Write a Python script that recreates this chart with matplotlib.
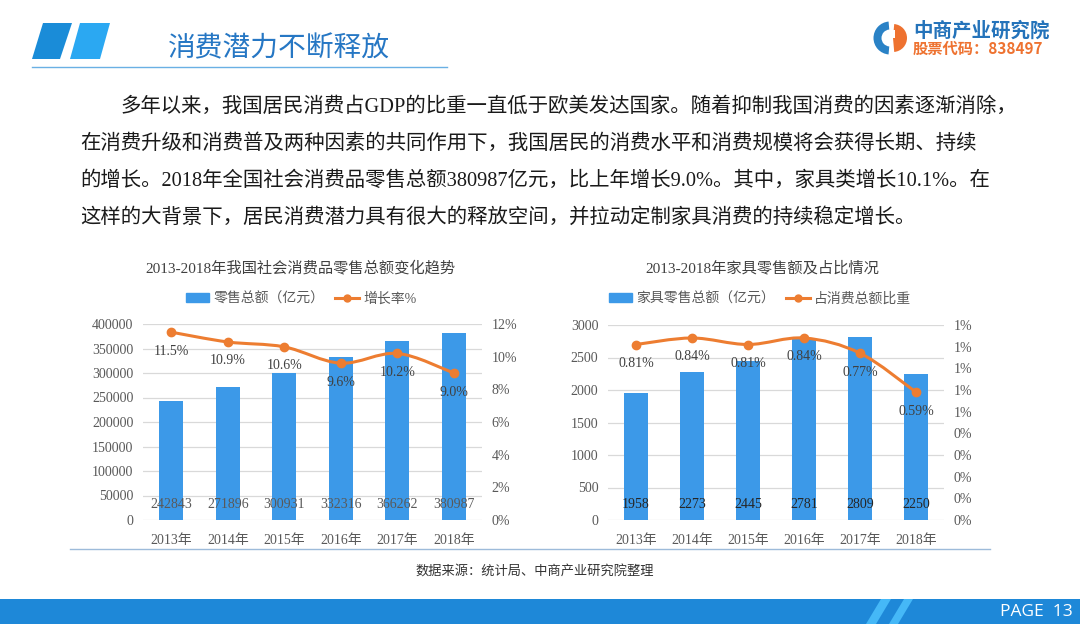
import numpy as np
import matplotlib
matplotlib.use('Agg')
import matplotlib.pyplot as plt
from matplotlib.patches import Polygon, Rectangle, Wedge, Circle, PathPatch, Patch
from matplotlib.lines import Line2D
from matplotlib.path import Path

# ---- data ----
years = ['2013年', '2014年', '2015年', '2016年', '2017年', '2018年']
retail_total = [242843, 271896, 300931, 332316, 366262, 380987]
retail_growth = [11.5, 10.9, 10.6, 9.6, 10.2, 9.0]
furniture_sales = [1958, 2273, 2445, 2781, 2809, 2250]
furniture_share = [0.81, 0.84, 0.81, 0.84, 0.77, 0.59]

retail_ticks = [0, 50000, 100000, 150000, 200000, 250000, 300000, 350000, 400000]
growth_ticks = [0, 2, 4, 6, 8, 10, 12]
furniture_ticks = [0, 500, 1000, 1500, 2000, 2500, 3000]
share_ticks = [0, 0.1, 0.2, 0.3, 0.4, 0.5, 0.6, 0.7, 0.8, 0.9]
share_tick_labels = ['0%', '0%', '0%', '0%', '0%', '1%', '1%', '1%', '1%', '1%']

paragraph = [
    '多年以来，我国居民消费占GDP的比重一直低于欧美发达国家。随着抑制我国消费的因素逐渐消除，',
    '在消费升级和消费普及两种因素的共同作用下，我国居民的消费水平和消费规模将会获得长期、持续',
    '的增长。2018年全国社会消费品零售总额380987亿元，比上年增长9.0%。其中，家具类增长10.1%。在',
    '这样的大背景下，居民消费潜力具有很大的释放空间，并拉动定制家具消费的持续稳定增长。',
]

BAR = '#3C99E8'
LINE = '#ED7D31'
GRID = '#D9D9D9'
TXT = '#595959'
SERIF = ['Liberation Serif', 'Noto Sans CJK SC']
SANS = ['Noto Sans CJK SC', 'DejaVu Sans']

W, H = 1080, 631
fig = plt.figure(figsize=(W / 100, H / 100), dpi=100)
fig.patch.set_facecolor('white')

# page overlay in pixel coordinates
bg = fig.add_axes([0, 0, 1, 1], zorder=-1)
bg.set_xlim(0, W)
bg.set_ylim(H, 0)
bg.axis('off')

# header
bg.add_patch(Polygon([(32, 59), (43, 23), (72, 23), (60, 59)], color='#1A8CD8', lw=0))
bg.add_patch(Polygon([(70, 59), (80, 23), (110, 23), (100, 59)], color='#2BA8F2', lw=0))
bg.text(168, 48, '消费潜力不断释放', fontsize=20, color='#2677C4', va='center', ha='left', family=SANS)
bg.plot([32, 447], [67, 67], color='#6AB0E4', lw=1)

# logo
bg.add_patch(Wedge((890, 38), 16.5, 95, 265, width=8, color='#2A82C6', lw=0))
bg.add_patch(Wedge((893, 38), 14, -85, 85, color='#EE7230', lw=0))
bg.add_patch(Rectangle((892, 30), 3, 8, color='white', lw=0))
bg.text(913, 31, '中商产业研究院', fontsize=14, color='#2473BA', va='center', ha='left',
        family=SANS, fontweight='bold')
bg.text(913, 49, '股票代码：838497', fontsize=11, color='#EE7230', va='center', ha='left',
        family=SANS, fontweight='bold')

# paragraph
para_y = [107, 144, 181, 218]
for i, line in enumerate(paragraph):
    bg.text(120 if i == 0 else 80, para_y[i], line, fontsize=14.7, color='#1A1A1A',
            va='center', ha='left', family=SERIF)

# chart titles
bg.text(300, 268, '2013-2018年我国社会消费品零售总额变化趋势', fontsize=11, color='#404040',
        ha='center', va='center', family=SERIF)
bg.text(762, 268, '2013-2018年家具零售额及占比情况', fontsize=11, color='#404040',
        ha='center', va='center', family=SERIF)

# separator and source
bg.plot([70, 990], [549, 549], color='#9DBBDA', lw=1)
bg.text(535, 572, '数据来源：统计局、中商产业研究院整理', fontsize=9.5, color='#333333',
        ha='center', va='center', family=SANS)

# footer
bg.add_patch(Rectangle((0, 599), W, 25, color='#1E88D8', lw=0))
bg.add_patch(Polygon([(866, 624), (881, 599), (891, 599), (876, 624)], color='#45B8F7', lw=0))
bg.add_patch(Polygon([(889, 624), (904, 599), (913, 599), (898, 624)], color='#45B8F7', lw=0))
bg.text(1000, 612, 'PAGE  13', fontsize=12.5, color='white', ha='left', va='center', family='Open Sans')


def smooth_line(ax, x, y, color):
    x = np.asarray(x, float)
    y = np.asarray(y, float)
    n = len(x)
    verts = [(x[0], y[0])]
    codes = [Path.MOVETO]
    for i in range(n - 1):
        a = i - 1 if i > 0 else i
        b = i + 2 if i + 2 < n else i + 1
        c1 = (x[i] + (x[i + 1] - x[a]) / 6, y[i] + (y[i + 1] - y[a]) / 6)
        c2 = (x[i + 1] - (x[b] - x[i]) / 6, y[i + 1] - (y[b] - y[i]) / 6)
        verts += [c1, c2, (x[i + 1], y[i + 1])]
        codes += [Path.CURVE4] * 3
    ax.add_patch(PathPatch(Path(verts, codes), fill=False, ec=color, lw=2.2, capstyle='round'))
    ax.plot(x, y, 'o', color=color, ms=6, zorder=3)


def make_chart(px, bars, bar_ticks, line, line_ticks, line_labels, line_fmt, legend_labels,
               legend_x, bar_label_color):
    x0, x1, y0, y1 = px
    ax = fig.add_axes([x0 / W, 1 - y1 / H, (x1 - x0) / W, (y1 - y0) / H])
    ax.set_facecolor('none')
    xs = np.arange(len(years))
    ax.bar(xs, bars, width=0.42, color=BAR, zorder=2)
    ax.set_xlim(-0.5, len(years) - 0.5)
    ax.set_ylim(bar_ticks[0], bar_ticks[-1])
    ax.set_yticks(bar_ticks)
    ax.set_xticks(xs)
    ax.set_xticklabels(years)
    ax.grid(axis='y', color=GRID, lw=0.9, zorder=0)
    ax.set_axisbelow(True)
    for s in ax.spines.values():
        s.set_visible(False)
    ax.tick_params(length=0, labelsize=10, labelcolor=TXT)
    ax.tick_params(axis='x', pad=10)
    ax.tick_params(axis='y', pad=7)
    for lab in ax.get_xticklabels() + ax.get_yticklabels():
        lab.set_family(SERIF)
    for xi, v in zip(xs, bars):
        ax.annotate(str(v), (xi, 0), xytext=(0, 15), textcoords='offset pixels',
                    ha='center', va='center', fontsize=10, color=bar_label_color, family=SERIF, zorder=4)

    ax2 = ax.twinx()
    ax2.set_ylim(line_ticks[0], line_ticks[-1])
    ax2.set_yticks(line_ticks)
    ax2.set_yticklabels(line_labels)
    for s in ax2.spines.values():
        s.set_visible(False)
    ax2.tick_params(length=0, labelsize=10, labelcolor=TXT, pad=7)
    for lab in ax2.get_yticklabels():
        lab.set_family(SERIF)
    smooth_line(ax2, xs, line, LINE)
    for xi, v in zip(xs, line):
        ax2.annotate(line_fmt.format(v), (xi, v), xytext=(0, -19), textcoords='offset pixels',
                     ha='center', va='center', fontsize=10, color='#404040', family=SERIF)

    handles = [Patch(color=BAR), Line2D([], [], color=LINE, lw=2.2, marker='o', ms=5)]
    leg = ax.legend(handles, legend_labels, loc='center', bbox_to_anchor=(legend_x / W, 1 - 299 / H),
                    bbox_transform=fig.transFigure, ncol=2, frameon=False, handlelength=1.7,
                    handleheight=0.6, handletextpad=0.3, columnspacing=0.8,
                    prop={'family': SERIF, 'size': 10})
    for t in leg.get_texts():
        t.set_color(TXT)
    return ax, ax2


make_chart((143, 482, 324, 520), retail_total, retail_ticks, retail_growth, growth_ticks,
           ['{}%'.format(t) for t in growth_ticks], '{:.1f}%', ['零售总额（亿元）', '增长率%'],
           301, TXT)
make_chart((608, 944, 325, 520), furniture_sales, furniture_ticks, furniture_share, share_ticks,
           share_tick_labels, '{:.2f}%', ['家具零售总额（亿元）', '占消费总额比重'],
           760, '#262626')

fig.savefig('out.png', dpi=100, facecolor='white')
